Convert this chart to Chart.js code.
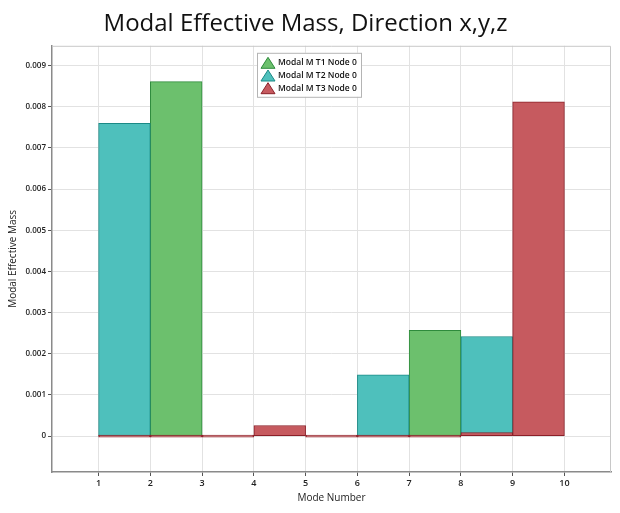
<!DOCTYPE html>
<html>
<head>
<meta charset="utf-8">
<script src="https://cdn.jsdelivr.net/npm/chart.js@4.4.0/dist/chart.umd.min.js"></script>
<style>
    html, body { margin: 0; padding: 0; background: #fff; }
    #wrap { width: 620px; height: 513px; }
</style>
</head>
<body>
<div id="wrap"><canvas id="modal_chart"></canvas></div>
<script>
// mode numbers (each bar spans mode .. mode+1)
const modes = [1, 2, 3, 4, 5, 6, 7, 8, 9];
const seriesNames = ['Modal M T1 Node 0', 'Modal M T2 Node 0', 'Modal M T3 Node 0'];
const t1Values = [0, 0.00861, 0, 0, 0, 0, 0.00257, 0, 0];
const t2Values = [0.00760, 0, 0, 0, 0, 0.00149, 0, 0.00242, 0];
const t3Values = [0, 0, 0, 0.00026, 0, 0, 0, 0.00009, 0.00812];
const xTicks = [1, 2, 3, 4, 5, 6, 7, 8, 9, 10];
const yTicks = [0, 0.001, 0.002, 0.003, 0.004, 0.005, 0.006, 0.007, 0.008, 0.009];

const fills = ['#6cc06d', '#4ec0bc', '#c65a5f'];
const borders = ['#2e8b3c', '#1b8a86', '#8b2029'];

let toPoints = function (vals) {
    return modes.map(function (m, i) { return { x: m + 0.5, y: vals[i] }; });
};

// frame around plot + floating legend
const framePlugin = {
    id: 'frame',
    beforeDatasetsDraw: function (chart) {
        let a = chart.chartArea;
        let ctx = chart.ctx;
        ctx.save();
        ctx.strokeStyle = '#c8c8c8';
        ctx.lineWidth = 1;
        ctx.beginPath();
        ctx.moveTo(a.left, a.top + 0.5);
        ctx.lineTo(a.right - 0.5, a.top + 0.5);
        ctx.lineTo(a.right - 0.5, a.bottom);
        ctx.stroke();
        ctx.restore();
    },
    afterDraw: function (chart) {
        let a = chart.chartArea;
        let ctx = chart.ctx;
        let bx = a.left + 205, by = a.top + 7, bw = 104, bh = 44;
        ctx.save();
        ctx.fillStyle = '#fff';
        ctx.fillRect(bx, by, bw, bh);
        ctx.strokeStyle = '#b4b4b4';
        ctx.lineWidth = 1;
        ctx.strokeRect(bx + 0.5, by + 0.5, bw, bh);
        ctx.font = '600 8.5px "Open Sans"';
        ctx.textBaseline = 'middle';
        seriesNames.forEach(function (name, i) {
            let cy = by + 10 + i * 12.7;
            ctx.beginPath();
            ctx.moveTo(bx + 4, cy + 5.5);
            ctx.lineTo(bx + 11, cy - 5.5);
            ctx.lineTo(bx + 18, cy + 5.5);
            ctx.closePath();
            ctx.fillStyle = fills[i];
            ctx.fill();
            ctx.strokeStyle = borders[i];
            ctx.stroke();
            ctx.fillStyle = '#111';
            ctx.fillText(name, bx + 21, cy);
        });
        ctx.restore();
    }
};

let ctx = document.getElementById('modal_chart').getContext('2d');
let myChart = new Chart(ctx, {
    type: 'bar',
    data: {
        datasets: [
            {
                label: seriesNames[2],
                data: toPoints(t3Values),
                backgroundColor: fills[2],
                borderColor: borders[2],
                borderWidth: 1,
                borderSkipped: false,
                minBarLength: 2,
                order: 0
            },
            {
                label: seriesNames[1],
                data: toPoints(t2Values),
                backgroundColor: fills[1],
                borderColor: borders[1],
                borderWidth: 1,
                borderSkipped: false,
                order: 1
            },
            {
                label: seriesNames[0],
                data: toPoints(t1Values),
                backgroundColor: fills[0],
                borderColor: borders[0],
                borderWidth: 1,
                borderSkipped: false,
                order: 2
            }
        ]
    },
    options: {
        responsive: true,
        maintainAspectRatio: false,
        animation: false,
        grouped: false,
        barPercentage: 1,
        categoryPercentage: 1,
        layout: { padding: { left: 0, right: 9, top: 0, bottom: 0 } },
        plugins: {
            legend: { display: false },
            tooltip: { enabled: false },
            title: {
                display: true,
                text: 'Modal Effective Mass, Direction x,y,z',
                color: '#111',
                font: { family: 'Open Sans', size: 24, weight: 'normal' },
                padding: { top: 10, bottom: 7 }
            }
        },
        scales: {
            x: {
                type: 'linear',
                offset: false,
                min: 0.1,
                max: 10.9,
                afterBuildTicks: function (axis) {
                    axis.ticks = xTicks.map(function (v) { return { value: v }; });
                },
                afterFit: function (axis) { axis.height = 41; },
                ticks: {
                    color: '#222',
                    font: { family: 'Open Sans', size: 9, weight: '600' },
                    padding: 2,
                    maxRotation: 0
                },
                grid: { offset: false, color: '#e2e2e2', tickColor: '#555', tickLength: 4 },
                border: { color: '#8a8a8a', width: 1.5 },
                title: {
                    display: true,
                    text: 'Mode Number',
                    color: '#222',
                    font: { family: 'Open Sans', size: 10 },
                    padding: { top: 4, bottom: 9 }
                }
            },
            y: {
                min: -0.00087,
                max: 0.00948,
                afterBuildTicks: function (axis) {
                    axis.ticks = yTicks.map(function (v) { return { value: v }; });
                },
                afterFit: function (axis) { axis.width = 52; },
                ticks: {
                    color: '#222',
                    font: { family: 'Open Sans', size: 8, weight: '600' },
                    padding: 2,
                    callback: function (v) { return v === 0 ? '0' : v.toFixed(3); }
                },
                grid: { color: '#e2e2e2', tickColor: '#555', tickLength: 4 },
                border: { color: '#8a8a8a', width: 1.5 },
                title: {
                    display: true,
                    text: 'Modal Effective Mass',
                    color: '#222',
                    font: { family: 'Open Sans', size: 10 },
                    padding: { top: 7, bottom: 2 }
                }
            }
        }
    },
    plugins: [framePlugin]
});
</script>
</body>
</html>
